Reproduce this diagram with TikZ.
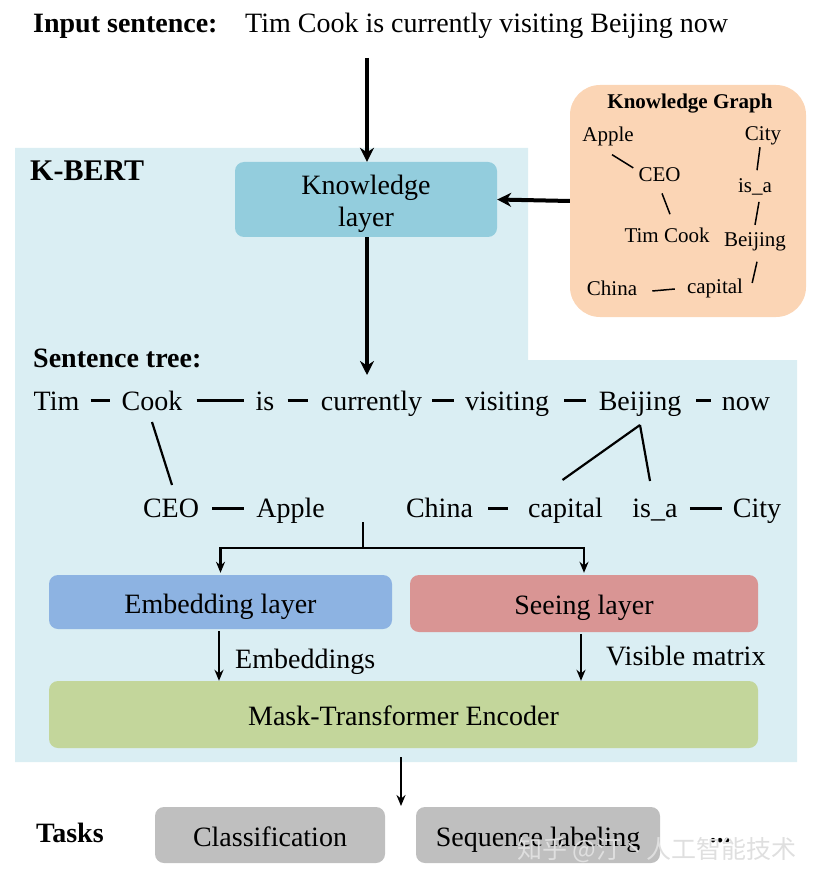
\documentclass[tikz,border=0pt]{standalone}
\usepackage{fontspec}
\setmainfont{Liberation Serif}
\newfontfamily\cjkfont{Noto Sans CJK SC}
\usetikzlibrary{arrows.meta,calc}
\definecolor{kbg}{HTML}{DAEEF3}
\definecolor{klc}{HTML}{93CDDD}
\definecolor{kgc}{HTML}{FBD5B5}
\definecolor{embc}{HTML}{8DB3E2}
\definecolor{seec}{HTML}{D99594}
\definecolor{mtec}{HTML}{C3D69B}
\definecolor{taskc}{HTML}{BFBFBF}
\begin{document}
\begin{tikzpicture}[x=1pt,y=-1pt,
  txt/.style={font=\fontsize{28}{32}\selectfont, inner sep=0pt, anchor=base},
  boldt/.style={font=\fontsize{28}{32}\selectfont\bfseries, inner sep=0pt, anchor=base west},
  kgt/.style={font=\fontsize{21}{24}\selectfont, inner sep=0pt, anchor=base},
  boxbase/.style={rounded corners=9pt, inner sep=0pt, font=\fontsize{28}{32}\selectfont},
  box/.style={boxbase, text height=22pt, text depth=0pt},
  arr/.style={-{Stealth[length=14pt,width=14pt]}, line width=4pt},
  arrthin/.style={-{Stealth[length=11pt,width=9pt]}, line width=2.5pt},
  tl/.style={line width=2.2pt},
  dsh/.style={line width=3pt},
  kgl/.style={line width=1.5pt}]
\useasboundingbox (0,0) rectangle (814,882);
% background
\fill[kbg] (15,148) -- (528,148) -- (528,360) -- (797,360) -- (797,762) -- (15,762) -- cycle;

% input sentence
\node[boldt] (inlab) at (33,33) {Input sentence:};
\node[txt, anchor=base west] (insent) at (245,33) {Tim Cook is currently visiting Beijing now};
\coordinate (inarr) at (367,58);

% K-BERT
\node[font=\fontsize{30}{34}\selectfont\bfseries, inner sep=0pt, anchor=base west] (kbert) at (30,181) {K-BERT};

% knowledge layer
\node[boxbase, fill=klc, minimum width=262pt, minimum height=75pt] (kl) at (366,199.5)
  {\raisebox{-5pt}[\height][\depth]{\begin{tabular}{@{}c@{}}Knowledge\\layer\end{tabular}}};

% knowledge graph
\node[fill=kgc, rounded corners=30pt, minimum width=236pt, minimum height=232pt, inner sep=0pt] (kg) at (688,201) {};
\node[kgt, font=\fontsize{21}{24}\selectfont\bfseries] (kgt) at (690,109) {Knowledge Graph};
\node[kgt] (gapple) at (608,142) {Apple};
\node[kgt] (gcity) at (763,141) {City};
\node[kgt] (gceo) at (659.5,182) {CEO};
\node[kgt] (gisa) at (755,193) {is\_a};
\node[kgt] (gtim) at (667,243) {Tim Cook};
\node[kgt] (gbei) at (755,247) {Beijing};
\node[kgt] (gchina) at (612,295) {China};
\node[kgt] (gcap) at (715,293) {capital};
\draw[kgl] ($(gapple.south)+(4,8)$) -- ($(gceo.north west)+(-5,0)$);
\draw[kgl] ($(gceo.south)+(2.5,11)$) -- ($(gtim.north)+(3,-14)$);
\draw[kgl] ($(gcity.south)+(-3,1.5)$) -- ($(gisa.north)+(2,-8.7)$);
\draw[kgl] ($(gisa.south)+(4,6)$) -- ($(gbei.north)+(0,-8)$);
\draw[kgl] ($(gbei.south)+(2,10)$) -- ($(gcap.east)+(9,-5)$);
\draw[kgl] ($(gchina.base east)+(15,-4)$) -- ($(gcap.base west)+(-12,-4)$);

% arrows into knowledge layer
\draw[arr] (inarr) -- (kl.north -| inarr);
\draw[arr] (kg.west) -- (kl.east);
\coordinate (treetop) at (367,375);
\draw[arr] (kl.south -| treetop) -- (treetop);

% sentence tree
\node[boldt] (stlab) at (33,367) {Sentence tree:};
\node[txt] (tim) at (56.5,410) {Tim};
\node[txt] (cook) at (152,410) {Cook};
\node[txt] (is) at (265,410) {is};
\node[txt] (cur) at (371.5,410) {currently};
\node[txt] (vis) at (507,410) {visiting};
\node[txt] (bei) at (640,410) {Beijing};
\node[txt] (now) at (746,410) {now};
\draw[dsh] ($(tim.base east)+(11,-9.5)$) -- ($(cook.base west)+(-11,-9.5)$);
\draw[dsh] ($(cook.base east)+(14,-9.5)$) -- ($(is.base west)+(-11,-9.5)$);
\draw[dsh] ($(is.base east)+(13,-9.5)$) -- ($(cur.base west)+(-13,-9.5)$);
\draw[dsh] ($(cur.base east)+(10,-9.5)$) -- ($(vis.base west)+(-11,-9.5)$);
\draw[dsh] ($(vis.base east)+(15,-9.5)$) -- ($(bei.base west)+(-13,-9.5)$);
\draw[dsh] ($(bei.base east)+(15,-9.5)$) -- ($(now.base west)+(-11,-9.5)$);

\node[txt] (ceo) at (171,517) {CEO};
\node[txt] (apple) at (290.5,517) {Apple};
\node[txt] (china) at (439.5,517) {China};
\node[txt] (cap) at (565.5,517) {capital};
\node[txt] (isa) at (655,517) {is\_a};
\node[txt] (city) at (757,517) {City};
\draw[dsh] ($(ceo.base east)+(13,-9)$) -- ($(apple.base west)+(-12,-9)$);
\draw[dsh] ($(china.base east)+(15,-9)$) -- ($(cap.base west)+(-20,-9)$);
\draw[dsh] ($(isa.base east)+(12,-9)$) -- ($(city.base west)+(-11,-9)$);
\draw[tl] ($(cook.base)+(0,12)$) -- ($(ceo.base)+(1,-32)$);
\draw[tl] ($(bei.base)+(0,15)$) -- ($(cap.base)+(-3,-37)$);
\draw[tl] ($(bei.base)+(0,15)$) -- ($(isa.base)+(-5,-36)$);

% embedding / seeing
\node[box, fill=embc, minimum width=343pt, minimum height=54pt] (emb) at (220.5,602) {Embedding layer};
\node[box, fill=seec, minimum width=348pt, minimum height=57pt] (see) at (584,603.5) {Seeing layer};
\node[box, fill=mtec, minimum width=709pt, minimum height=67pt] (mte) at (403.5,714.5) {Mask-Transformer Encoder};

\coordinate (split) at (363,522);
\coordinate (splitb) at (363,548);
\draw[tl] (split) -- (splitb);
\draw[arrthin] (splitb) -| ([yshift=2pt]emb.north);
\draw[arrthin] (splitb) -| ([yshift=2pt]see.north);

\draw[arrthin] ([xshift=-1.5pt,yshift=-2pt]emb.south) -- ([xshift=-1.5pt]emb.south |- mte.north);
\draw[arrthin] ([xshift=-3pt,yshift=-2pt]see.south) -- ([xshift=-3pt]see.south |- mte.north);
\node[txt, anchor=base west] (embl) at (235,668) {Embeddings};
\node[txt, anchor=base west] (visl) at (606,665) {Visible matrix};

% tasks
\coordinate (outa) at (401,757);
\coordinate (outb) at (401,806);
\draw[arrthin] (outa) -- (outb);
\node[boldt] (tasks) at (36,842) {Tasks};
\node[box, fill=taskc, minimum width=230pt, minimum height=56pt] (cls) at (270,835) {Classification};
\node[box, fill=taskc, minimum width=244pt, minimum height=56pt] (seq) at (538,835) {Sequence labeling};
\node[txt, font=\fontsize{28}{32}\selectfont\bfseries] (dots) at (720,842) {...};

% watermark
\node[font=\cjkfont\fontsize{25}{28}\selectfont, text=gray!25, inner sep=0pt] (wm) at (657,850) {知乎 @汀丶人工智能技术};
\end{tikzpicture}
\end{document}
